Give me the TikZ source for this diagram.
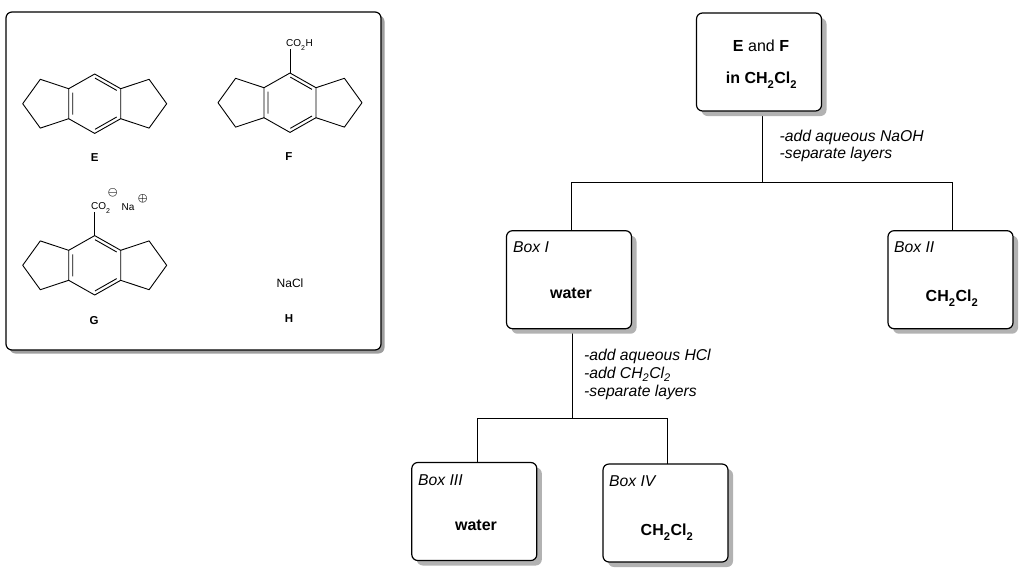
\documentclass[tikz,border=0pt]{standalone}
\usepackage{fontspec}
\setmainfont{Liberation Sans}
\usetikzlibrary{backgrounds}

\newcommand{\subtwo}{\raisebox{-0.3ex}{\textsubscript{2}}}

\tikzset{
	base_box/.style={draw, line width=1.2pt, fill=white, rounded corners=6pt, inner sep=0pt},
	flow_box/.style={base_box, minimum width=125pt, minimum height=98pt,
		preaction={draw=none, fill=black!30, transform canvas={shift={(5pt,-5pt)}}}},
	panel_box/.style={base_box, minimum width=375pt, minimum height=338pt,
		preaction={draw=none, fill=black!38, transform canvas={shift={(3.5pt,-3.5pt)}}}},
	flow_line/.style={line width=1.1pt},
	box_tag/.style={anchor=west, inner sep=0pt, font=\fontsize{15.7}{18}\selectfont\itshape},
	box_text/.style={inner sep=0pt, font=\fontsize{16}{18}\selectfont\bfseries},
	step_text/.style={anchor=west, align=left, inner sep=0pt, font=\fontsize{15.7}{17.7}\selectfont\itshape},
	mol_text/.style={inner sep=0pt, font=\fontsize{10}{12}\selectfont},
	mol_label/.style={inner sep=0pt, font=\fontsize{11.5}{12}\selectfont\bfseries},
	pics/indacene/.style={code={
		\draw[line width=0.9pt, line join=round]
			(-26,-15) -- (0,-29.7) -- (26,-15) -- (26,15) -- (0,29.7) -- (-26,15) -- cycle
			(-26,-15) -- (-54.4,-24.4) -- (-72,0) -- (-54.4,24.4) -- (-26,15)
			(26,-15) -- (54.4,-24.4) -- (72,0) -- (54.4,24.4) -- (26,15)
			(-22,-11) -- (-22,11)
			(0.3,-25.6) -- (22,-13.3)
			(0.3,25.6) -- (22,13.3);
	}}
}

\begin{document}
\begin{tikzpicture}[x=1pt, y=-1pt]
	\useasboundingbox (0,0) rectangle (1024,574);

	% Left panel
	\node[panel_box] (panel) at (193.5,181) {};

	% Structures
	\pic at (94.7,103.7) {indacene};
	\node[mol_label] (label_e) at (94.7,158) {E};

	\pic at (290,102.7) {indacene};
	\node[mol_text, anchor=west] (acid_f) at (286,45) {CO\subtwo H};
	\node[mol_label] (label_f) at (289,157) {F};
	\coordinate (ring_f) at (290,72.7);
	\draw[line width=0.9pt] (ring_f) -- (290,49.3);

	\pic at (94.7,265.3) {indacene};
	\node[mol_text, anchor=west] (acid_g) at (91,208) {CO\subtwo};
	\node[mol_text, font=\fontsize{11}{12}\selectfont\boldmath] (minus_g) at (112.7,193) {$\ominus$};
	\node[mol_text] (sodium_g) at (128,207) {Na};
	\node[mol_text, font=\fontsize{11}{12}\selectfont\boldmath] (plus_g) at (142.7,198.7) {$\oplus$};
	\node[mol_label] (label_g) at (94,320.5) {G};
	\coordinate (ring_g) at (94.7,235.7);
	\draw[line width=0.9pt] (ring_g) -- (94.7,211.7);

	\node[inner sep=0pt, font=\fontsize{12}{14}\selectfont] (salt_h) at (290,283) {NaCl};
	\node[mol_label] (label_h) at (289,318.5) {H};

	% Boxes of the scheme
	\node[flow_box] (box_top) at (759,62) {};
	\node[flow_box] (box_one) at (569,279.7) {};
	\node[flow_box] (box_two) at (950.5,279.7) {};
	\node[flow_box] (box_three) at (474.3,511.5) {};
	\node[flow_box] (box_four) at (665.5,513) {};

	% Text in the boxes
	\node[inner sep=0pt, font=\fontsize{16}{18}\selectfont] (text_top_a) at (761,45.5) {\textbf{E} and \textbf{F}};
	\node[box_text] (text_top_b) at (761.5,80) {in CH\subtwo Cl\subtwo};
	\node[box_tag] (tag_one) at (513,246.7) {Box I};
	\node[box_text] (text_one) at (571,293.7) {water};
	\node[box_tag] (tag_two) at (894,246.7) {Box II};
	\node[box_text] (text_two) at (952,298) {CH\subtwo Cl\subtwo};
	\node[box_tag] (tag_three) at (418,479.7) {Box III};
	\node[box_text] (text_three) at (476,525.7) {water};
	\node[box_tag] (tag_four) at (609,480.7) {Box IV};
	\node[box_text] (text_four) at (667,532) {CH\subtwo Cl\subtwo};

	% Steps
	\node[step_text] (steps_one) at (779.5,146) {-add aqueous NaOH\\-separate layers};
	\node[step_text] (steps_two) at (584,374.3) {-add aqueous HCl\\-add CH\textsubscript{2}Cl\textsubscript{2}\\-separate layers};

	% Lines behind the boxes
	\coordinate (split_one) at (762.5,182.5);
	\coordinate (split_two) at (572.5,418.5);
	\begin{scope}[on background layer]
		\draw[flow_line] ([xshift=3.5pt]box_top.center) -- (split_one);
		\draw[flow_line] ([xshift=2.5pt]box_one.center) |- (split_one) -| ([xshift=2pt]box_two.center);
		\draw[flow_line] ([xshift=3.5pt]box_one.center) -- (split_two);
		\draw[flow_line] ([xshift=3.2pt]box_three.center) |- (split_two) -| ([xshift=2pt]box_four.center);
	\end{scope}
\end{tikzpicture}
\end{document}
